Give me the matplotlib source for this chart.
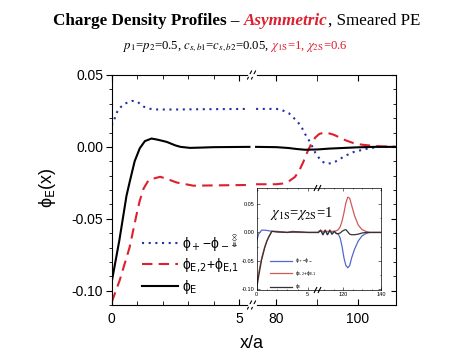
import numpy as np
import matplotlib
matplotlib.use("Agg")
import matplotlib.pyplot as plt
from matplotlib.ticker import MultipleLocator, FixedLocator, FormatStrFormatter
from matplotlib.lines import Line2D

plt.rcParams['font.family'] = ['Liberation Sans', 'DejaVu Sans']
plt.rcParams['axes.unicode_minus'] = False
plt.rcParams['mathtext.fontset'] = 'dejavusans'

# ---- main plot data (left segment: x/a 0..5.4, right segment: 75..110) ----
xl_blue = [0, 0.1, 0.25, 0.5, 0.8, 1.0, 1.25, 1.5, 1.8, 2.5, 3.5, 4.5, 5.4]
yl_blue = [0.015, 0.019, 0.026, 0.030, 0.032, 0.0315, 0.028, 0.0265, 0.026, 0.026, 0.0262, 0.0263, 0.0264]
xl_red = [0, 0.31, 0.7, 1.0, 1.1, 1.25, 1.45, 1.9, 2.2, 2.55, 3.2, 4.0, 5.4]
yl_red = [-0.108, -0.093, -0.07, -0.045, -0.0375, -0.029, -0.023, -0.0208, -0.0225, -0.0248, -0.027, -0.0268, -0.0265]
xl_blk = [0, 0.3, 0.58, 0.71, 0.9, 1.1, 1.3, 1.56, 1.8, 2.15, 2.5, 2.7, 3.07, 3.5, 4.0, 5.4]
yl_blk = [-0.094, -0.065, -0.034, -0.024, -0.010, -0.001, 0.004, 0.0058, 0.005, 0.0035, 0.001, 0.0, -0.0007, -0.0005, -0.0002, 0.0]

xr_blue = [75, 80, 81, 83, 85, 86, 87, 88.3, 89.5, 91, 92.4, 94, 95.5, 97, 99, 102, 105, 109.3]
yr_blue = [0.0264, 0.0264, 0.026, 0.0235, 0.018, 0.0146, 0.009, 0.003, -0.004, -0.010, -0.0118, -0.011, -0.0085, -0.006, -0.0035, -0.0014, 0.0, 0.0]
xr_red = [75, 80, 81.5, 83, 84.5, 85.5, 86.5, 87.5, 88.5, 89.5, 90.5, 91.5, 92.5, 94, 95.5, 97, 99, 101, 103.7, 106, 109.3]
yr_red = [-0.026, -0.026, -0.0255, -0.024, -0.021, -0.017, -0.011, -0.004, 0.002, 0.0065, 0.009, 0.0098, 0.0097, 0.0085, 0.0065, 0.0045, 0.0025, 0.0015, 0.0007, 0.0003, 0.0]
xr_blk = [75, 80, 83, 85, 87, 90, 93, 96, 100, 104, 109.3]
yr_blk = [0.0, -0.0002, -0.0008, -0.0015, -0.002, -0.0018, -0.0012, -0.0008, -0.0003, 0.0, 0.0]

# ---- inset data (chi_1S = chi_2S = 1) ----
il_x = [0, 0.2, 0.5, 0.8, 1.0, 1.2, 1.5, 2, 3, 3.5, 4, 5, 6]
il_blue = [-0.016, -0.003, 0.004, 0.004, 0.0035, 0.003, 0.002, 0.001, 0.0, 0.0005, 0.0, 0.0, 0.0]
il_red = [-0.09, -0.072, -0.045, -0.025, -0.015, -0.007, 0.002, 0.002, 0.0, 0.002, 0.001, 0.0, 0.0]
il_blk = [-0.10, -0.078, -0.048, -0.027, -0.016, -0.008, 0.002, 0.001, 0.0, 0.001, 0.001, 0.0, 0.0]
ir_x = [107, 108.2, 109.4, 110.6, 111.8, 113, 114.2, 115.4, 116.5, 117.5, 118.5, 119.5, 120.5, 121.5,
        122.5, 123.5, 124.5, 126, 128, 130, 132, 134, 140]
ir_blue = [0.0, 0.004, -0.004, 0.004, -0.004, 0.004, -0.003, 0.002, -0.002, -0.003, -0.01, -0.025, -0.045, -0.058,
           -0.062, -0.058, -0.045, -0.03, -0.015, -0.006, -0.002, 0.0, 0.0]
ir_red = [0.002, 0.002, 0.002, 0.002, 0.002, 0.002, 0.002, 0.002, 0.003, 0.005, 0.01, 0.02, 0.035, 0.052,
          0.062, 0.06, 0.048, 0.03, 0.013, 0.005, 0.002, 0.0, 0.0]
ir_blk = [0.0, 0.004, -0.004, 0.004, -0.004, 0.004, -0.003, 0.002, -0.002, -0.002, -0.001, 0.002, 0.004, 0.005,
          0.001, -0.003, -0.004, -0.004, -0.003, -0.001, 0.0, 0.0, 0.0]

lab_pm = r'ϕ$_+$−ϕ$_-$'
lab_sum = r'ϕ$_{\mathrm{E,\!2}}$+ϕ$_{\mathrm{E,\!1}}$'
lab_e = r'ϕ$_{\mathrm{E}}$'

BLUE = '#2233aa'
RED = '#dd1f2f'
W, H = 474, 355

fig = plt.figure(figsize=(4.74, 3.55), dpi=100)

def fx(px):
    return px / W

def fy(py):
    return 1 - py / H

# main broken axes
ax1 = fig.add_axes([fx(111.7), fy(305), fx(252) - fx(111.7), fy(75) - fy(305)])
ax2 = fig.add_axes([fx(252), fy(305), fx(396) - fx(252), fy(75) - fy(305)])

ax1.plot(xl_blue, yl_blue, color=BLUE, lw=1.5, dashes=(1, 2.2), label=lab_pm)
ax1.plot(xl_red, yl_red, color=RED, lw=1.5, dashes=(5, 3), label=lab_sum)
ax1.plot(xl_blk, yl_blk, color='black', lw=1.5, label=lab_e)
ax2.plot(xr_blue, yr_blue, color=BLUE, lw=1.5, dashes=(1, 2.2))
ax2.plot(xr_red, yr_red, color=RED, lw=1.5, dashes=(5, 3))
ax2.plot(xr_blk, yr_blk, color='black', lw=1.5)

ax1.set_xlim(0, 5.5)
ax2.set_xlim(74, 109.3)
for ax in (ax1, ax2):
    ax.set_ylim(-0.11, 0.05)
    ax.yaxis.set_major_locator(MultipleLocator(0.05))
    ax.yaxis.set_minor_locator(MultipleLocator(0.01))
    ax.tick_params(labelsize=10, width=0.8)
    for s in ax.spines.values():
        s.set_linewidth(0.8)

ax1.spines['right'].set_visible(False)
ax2.spines['left'].set_visible(False)
ax1.yaxis.set_major_formatter(FormatStrFormatter('%.2f'))
ax1.xaxis.set_major_locator(FixedLocator([0, 5]))
ax1.xaxis.set_minor_locator(MultipleLocator(1))
ax2.xaxis.set_major_locator(FixedLocator([80, 100]))
ax2.xaxis.set_minor_locator(FixedLocator([90]))
ax1.tick_params(axis='y', which='both', direction='out', left=True, right=False, pad=2)
ax1.tick_params(axis='y', which='major', length=4)
ax1.tick_params(axis='y', which='minor', length=2.5)
ax1.tick_params(axis='x', which='both', direction='in', top=True, bottom=True, pad=5)
ax2.tick_params(axis='y', which='both', direction='in', left=False, right=True, labelleft=False)
ax2.tick_params(axis='y', which='minor', length=2.5)
ax2.tick_params(axis='x', which='both', direction='in', top=True, bottom=True, pad=5)
ax1.tick_params(axis='x', which='major', length=4)
ax2.tick_params(axis='x', which='major', length=4)
ax2.tick_params(axis='x', which='minor', length=4)
ax1.tick_params(axis='x', which='minor', length=3)

leg = ax1.legend(loc='upper left', bbox_to_anchor=(0.215, 0.305), frameon=False, fontsize=10,
                 handlelength=2.6, handletextpad=0.3, labelspacing=0.25, borderpad=0, borderaxespad=0)

# break marks
def break_marks(xpx, ypx, size=4):
    for dx in (-2.5, 1.5):
        fig.add_artist(Line2D([fx(xpx + dx - size / 2), fx(xpx + dx + size / 2)],
                              [fy(ypx + size), fy(ypx - size)], color='black', lw=0.8))

fig.add_artist(Line2D([fx(249), fx(255)], [fy(75), fy(75)], color='white', lw=2, zorder=5))
fig.add_artist(Line2D([fx(249), fx(255)], [fy(305), fy(305)], color='white', lw=2, zorder=5))
break_marks(252, 75)
break_marks(252, 305)

fig.text(fx(48), fy(188), r'ϕ$_{\mathrm{E}}$(x)', rotation=90, ha='center', va='center', fontsize=13)
fig.text(fx(252), fy(343), 'x/a', ha='center', va='center', fontsize=13)

# inset
ia1 = fig.add_axes([fx(256.5), fy(290), fx(318) - fx(256.5), fy(188) - fy(290)])
ia2 = fig.add_axes([fx(318), fy(290), fx(381) - fx(318), fy(188) - fy(290)])
ia1.plot(il_x, il_blue, color='#5566cc', lw=0.9, label=lab_pm)
ia1.plot(il_x, il_red, color='#d05a5a', lw=0.9, label=lab_sum)
ia1.plot(il_x, il_blk, color='#333333', lw=0.9, label=lab_e)
ia2.plot(ir_x, ir_blue, color='#5566cc', lw=0.9)
ia2.plot(ir_x, ir_red, color='#d05a5a', lw=0.9)
ia2.plot(ir_x, ir_blk, color='#333333', lw=0.9)
ia1.set_xlim(0, 6)
ia2.set_xlim(106.8, 140)
for ax in (ia1, ia2):
    ax.set_ylim(-0.101, 0.078)
    ax.yaxis.set_major_locator(MultipleLocator(0.05))
    ax.yaxis.set_minor_locator(MultipleLocator(0.025))
    ax.tick_params(labelsize=4, width=0.4, length=2, pad=1.5, direction='in', top=True)
    ax.tick_params(which='minor', length=1, width=0.4, direction='in', top=True)
    for s in ax.spines.values():
        s.set_linewidth(0.5)
ia1.spines['right'].set_visible(False)
ia2.spines['left'].set_visible(False)
ia1.yaxis.set_major_formatter(FormatStrFormatter('%.2f'))
ia1.xaxis.set_major_locator(FixedLocator([0, 5]))
ia1.xaxis.set_minor_locator(MultipleLocator(1))
ia2.xaxis.set_major_locator(FixedLocator([120, 140]))
ia2.xaxis.set_minor_locator(MultipleLocator(5))
ia2.tick_params(axis='y', which='both', left=False, right=True, labelleft=False)
ia1.set_ylabel(r'ϕ$_{\mathrm{E}}$(x)', fontsize=4.5, labelpad=1)
ileg = ia1.legend(loc='upper left', bbox_to_anchor=(0.22, 0.33), frameon=False, fontsize=3.5,
                  handlelength=4.5, handletextpad=0.6, labelspacing=0.9, borderpad=0, borderaxespad=0)
fig.text(fx(270), fy(217), r'$\chi_{\mathrm{1S}}$=$\chi_{\mathrm{2S}}$=1', fontsize=10.5,
         family='Liberation Serif', math_fontfamily='stix', va='baseline')
break_marks(318, 188, size=2.5)
break_marks(318, 290, size=2.5)

# title rows built from styled pieces
def text_row(pieces, xc, y, size):
    r = fig.canvas.get_renderer()
    ts = []
    for s, kw in pieces:
        t = fig.text(0, y, s, fontsize=size, family='Liberation Serif', math_fontfamily='stix',
                     va='baseline', **kw)
        ts.append(t)
    widths = [t.get_window_extent(r).width for t in ts]
    x = xc - sum(widths) / 2
    for t, w in zip(ts, widths):
        t.set_x(x / W)
        x += w

text_row([('Charge Density Profiles – ', dict(weight='bold')),
          ('Asymmetric', dict(weight='bold', style='italic', color=RED)),
          (', Smeared PE', dict())], 236.5, fy(25), 12.3)
text_row([(r'$p_1$=$p_2$=0.5, $c_{s,b1}$=$c_{s,b2}$=0.05, ', dict()),
          (r'$\chi_{\mathrm{1S}}$=1, $\chi_{\mathrm{2S}}$=0.6', dict(color=RED))], 235.5, fy(49), 9.2)

fig.savefig('out.png', dpi=100)
